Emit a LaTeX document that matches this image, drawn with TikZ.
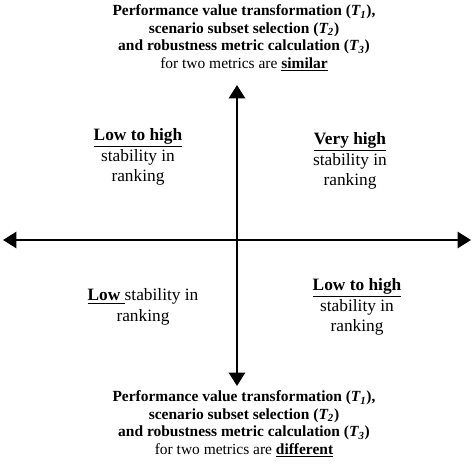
\documentclass[tikz,border=0pt]{standalone}
\usepackage{fontspec}
\setmainfont{Liberation Serif}
\usetikzlibrary{arrows.meta}
\newcommand{\Tsub}[1]{\textbf{\textit{T\textsubscript{#1}}}}
\begin{document}
\begin{tikzpicture}[x=0.75pt,y=-0.75pt,
    axis/.style={line width=2pt, {Triangle[length=10pt,width=12pt]}-{Triangle[length=10pt,width=12pt]}},
    condition/.style={align=center, font=\fontsize{11.6}{13.2}\selectfont, inner sep=0pt},
    quadrant/.style={align=center, font=\fontsize{13}{15.5}\selectfont, inner sep=0pt}]
    \useasboundingbox (0,0) rectangle (474,474);

    % Axes
    \coordinate (west) at (3,240);
    \coordinate (east) at (471,240);
    \coordinate (north) at (237,85);
    \coordinate (south) at (237,386);
    \draw[axis] (west) -- (east);
    \draw[axis] (north) -- (south);

    % Conditions at the ends of the vertical axis
    \node[condition] (similar) at (244,38) {\textbf{Performance value transformation (\Tsub{1}),}\\
        \textbf{scenario subset selection (\Tsub{2})}\\
        \textbf{and robustness metric calculation (\Tsub{3})}\\
        for two metrics are \underline{\textbf{similar}}};
    \node[condition] (different) at (244,424) {\textbf{Performance value transformation (\Tsub{1}),}\\
        \textbf{scenario subset selection (\Tsub{2})}\\
        \textbf{and robustness metric calculation (\Tsub{3})}\\
        for two metrics are \underline{\textbf{different}}};

    % Quadrants
    \node[quadrant] (upperleft) at (138,157) {\underline{\textbf{Low to high}}\\ stability in\\ ranking};
    \node[quadrant] (upperright) at (350,161) {\underline{\textbf{Very high}}\\ stability in\\ ranking};
    \node[quadrant] (lowerleft) at (143,307) {\underline{\textbf{Low }}stability in\\ ranking};
    \node[quadrant] (lowerright) at (357,307) {\underline{\textbf{Low to high}}\\ stability in\\ ranking};
\end{tikzpicture}
\end{document}
